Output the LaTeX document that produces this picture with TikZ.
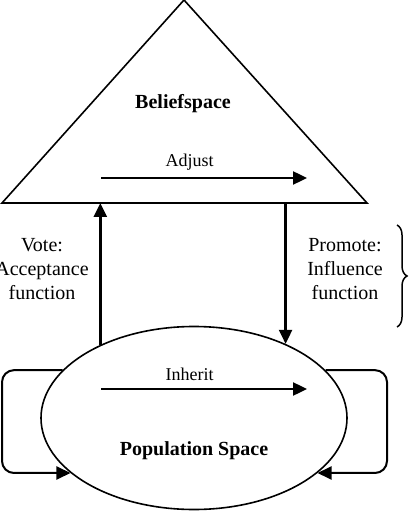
\documentclass[tikz,border=0pt]{standalone}
\usepackage{fontspec}
\setmainfont{Liberation Serif}
\usetikzlibrary{shapes,arrows.meta,positioning,calc,decorations.pathreplacing}

\begin{document}
\begin{tikzpicture}[
    x=0.5pt, y=-0.5pt,
    space/.style={ellipse, draw, line width=0.8pt, minimum width=153pt, minimum height=91.5pt, inner sep=0pt},
    flow/.style={line width=1.2pt, -{Triangle[length=7pt,width=6.5pt]}},
    loopback/.style={line width=1pt, rounded corners=6pt, -{Triangle[length=7pt,width=6.5pt]}},
    title/.style={font=\bfseries\fontsize{10}{12}\selectfont},
    note/.style={align=center, font=\fontsize{10}{12}\selectfont},
    tag/.style={font=\fontsize{9}{11}\selectfont}
]
    \useasboundingbox (0,0) rectangle (408,512);

    % belief space
    \coordinate (apex) at (184,0);
    \coordinate (bl) at (2,203);
    \coordinate (br) at (367,203);
    \draw[line width=0.8pt] (apex) -- (bl) -- (br) -- cycle;
    \node[title] (belief) at (183,104) {Beliefspace};

    % population space
    \node[space] (pop) at (194,418) {};
    \node[title] (popname) at (194,451) {Population Space};

    % arrows inside
    \coordinate (adjL) at (101,178);
    \coordinate (adjR) at (307,178);
    \draw[flow] (adjL) -- node[tag, pos=0.43, above=0pt] {Adjust} (adjR);
    \coordinate (inhL) at (101,389);
    \coordinate (inhR) at (307,389);
    \draw[flow] (inhL) -- node[tag, pos=0.43, above=0pt] {Inherit} (inhR);

    % vote and promote
    \draw[flow] (pop.142) -- (pop.142 |- bl);
    \draw[flow] (pop.39 |- br) -- (pop.39);
    \node[note] (vote) at (42,269) {Vote:\\Acceptance\\function};
    \node[note] (promote) at (345,269) {Promote:\\Influence\\function};
    \draw[line width=0.75pt, decorate, decoration={brace, amplitude=5pt}] (397,225) -- (397,327);

    % loops
    \coordinate (lside) at (2,420);
    \coordinate (rside) at (387,420);
    \draw[loopback] (pop.160) -- (pop.160 -| lside) -- (pop.204 -| lside) -- (pop.204);
    \draw[loopback] (pop.20) -- (pop.20 -| rside) -- (pop.336 -| rside) -- (pop.336);
\end{tikzpicture}
\end{document}
